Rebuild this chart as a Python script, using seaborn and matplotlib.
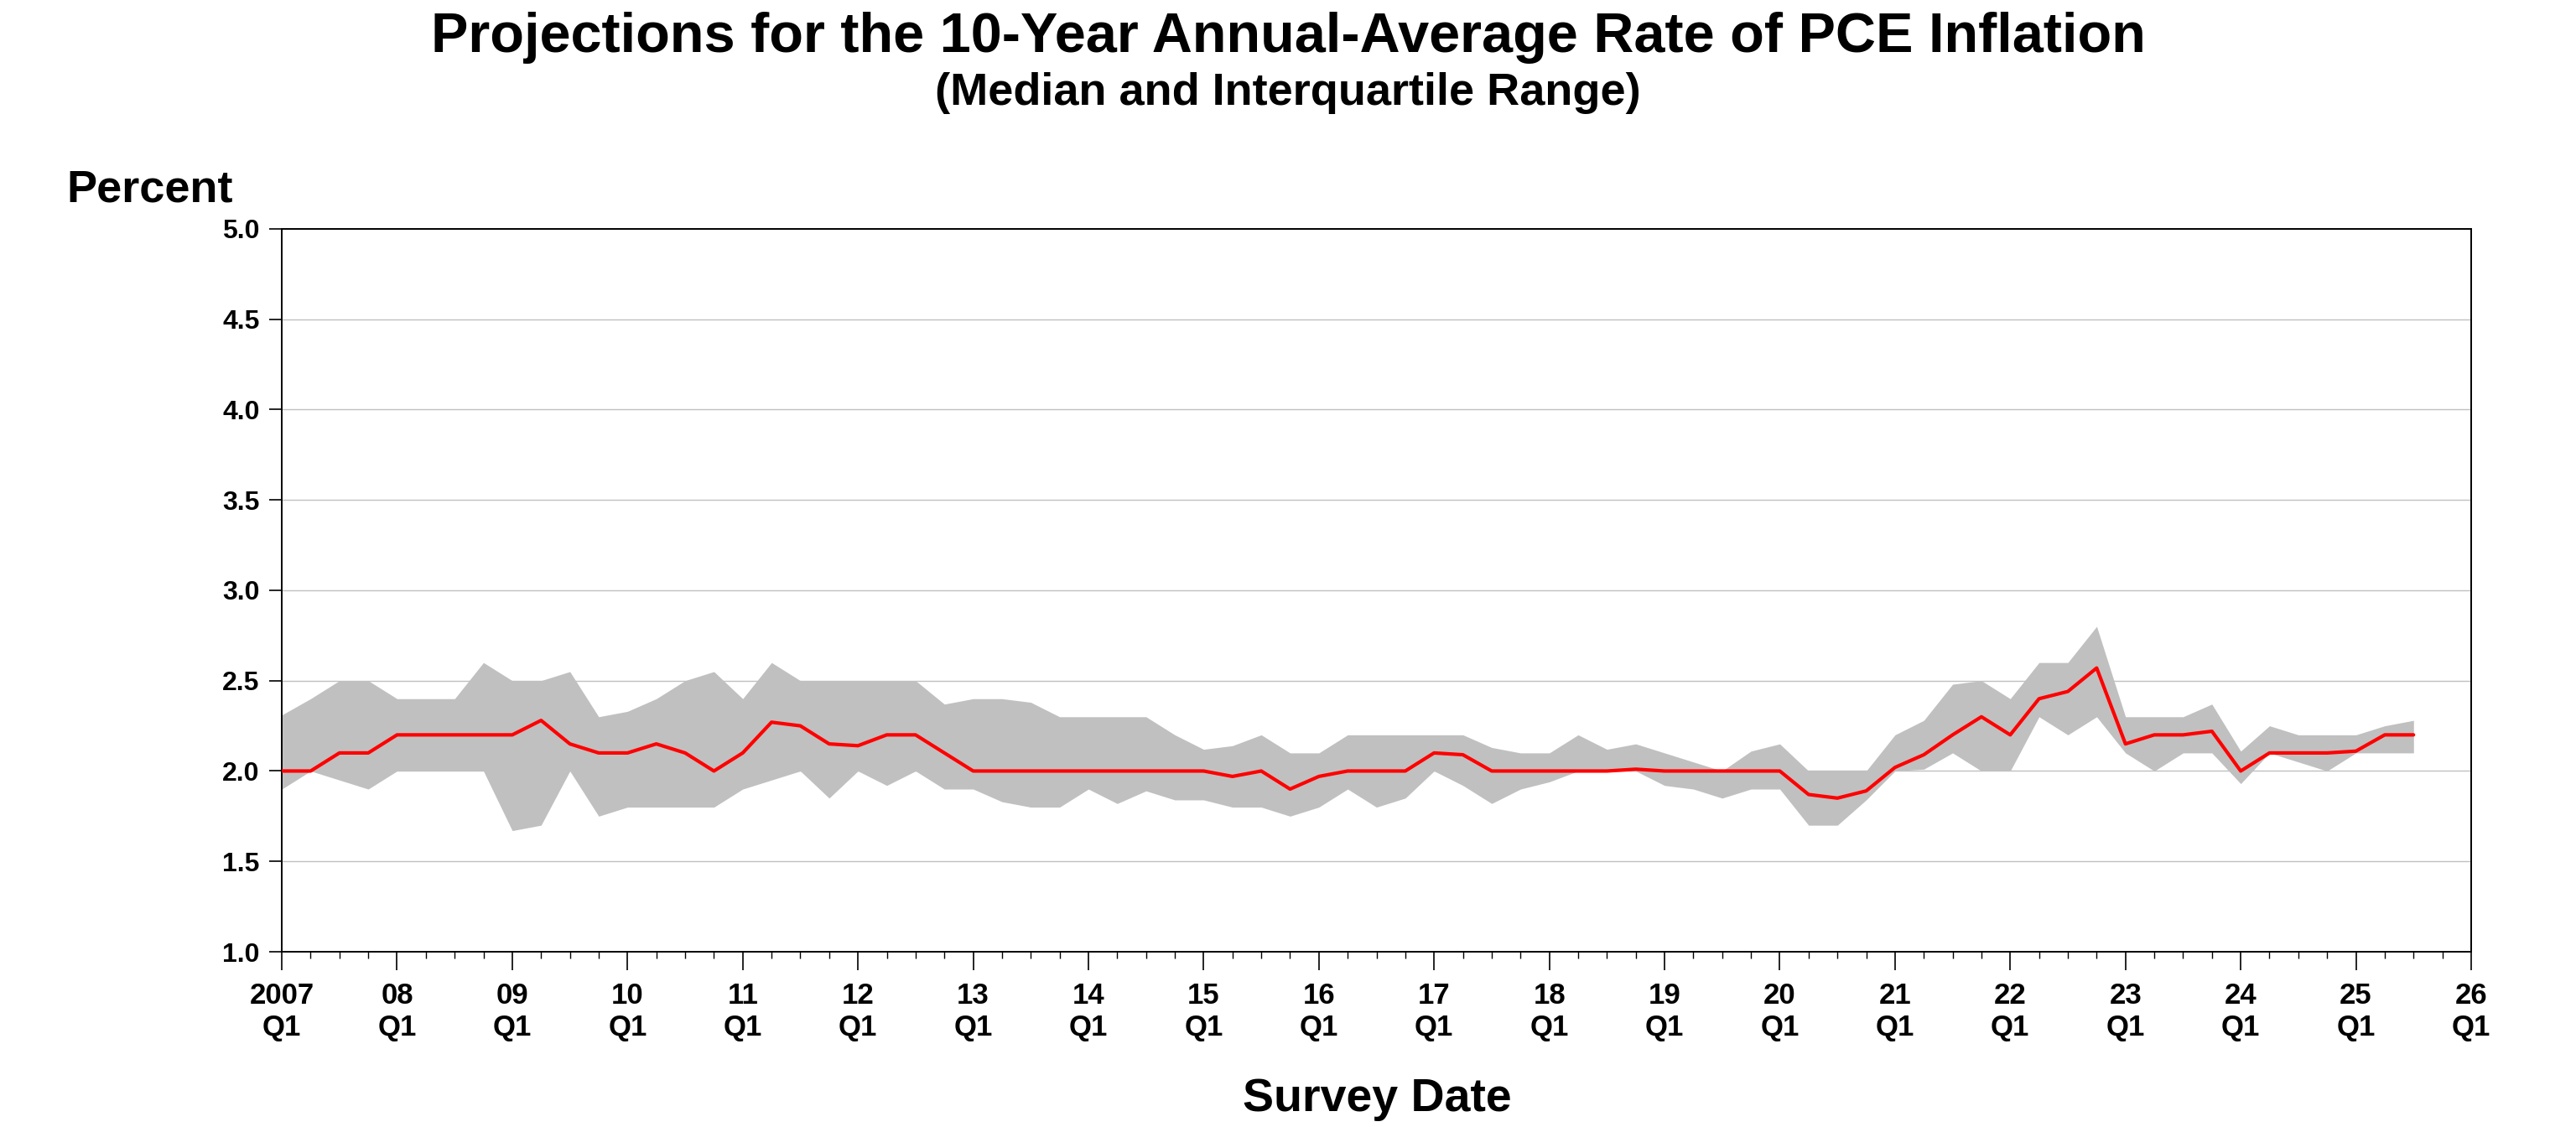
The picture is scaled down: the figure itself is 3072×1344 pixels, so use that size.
import pandas as pd
import matplotlib
matplotlib.use("Agg")
import matplotlib.pyplot as plt
import seaborn as sns
from matplotlib.ticker import MultipleLocator

# survey quarters 2007Q1 .. 2025Q3 (index 0 = 2007Q1)
year_labels = ["2007", "08", "09", "10", "11", "12", "13", "14", "15", "16",
               "17", "18", "19", "20", "21", "22", "23", "24", "25", "26"]

median = [2.00, 2.00, 2.10, 2.10, 2.20, 2.20, 2.20, 2.20, 2.20, 2.28,
          2.15, 2.10, 2.10, 2.15, 2.10, 2.00, 2.10, 2.27, 2.25, 2.15,
          2.14, 2.20, 2.20, 2.10, 2.00, 2.00, 2.00, 2.00, 2.00, 2.00,
          2.00, 2.00, 2.00, 1.97, 2.00, 1.90, 1.97, 2.00, 2.00, 2.00,
          2.10, 2.09, 2.00, 2.00, 2.00, 2.00, 2.00, 2.01, 2.00, 2.00,
          2.00, 2.00, 2.00, 1.87, 1.85, 1.89, 2.02, 2.09, 2.20, 2.30,
          2.20, 2.40, 2.44, 2.57, 2.15, 2.20, 2.20, 2.22, 2.00, 2.10,
          2.10, 2.10, 2.11, 2.20, 2.20]

upper = [2.31, 2.40, 2.50, 2.50, 2.40, 2.40, 2.40, 2.60, 2.50, 2.50,
         2.55, 2.30, 2.33, 2.40, 2.50, 2.55, 2.40, 2.60, 2.50, 2.50,
         2.50, 2.50, 2.50, 2.37, 2.40, 2.40, 2.38, 2.30, 2.30, 2.30,
         2.30, 2.20, 2.12, 2.14, 2.20, 2.10, 2.10, 2.20, 2.20, 2.20,
         2.20, 2.20, 2.13, 2.10, 2.10, 2.20, 2.12, 2.15, 2.10, 2.05,
         2.00, 2.11, 2.15, 2.00, 2.00, 2.00, 2.20, 2.28, 2.48, 2.50,
         2.40, 2.60, 2.60, 2.80, 2.30, 2.30, 2.30, 2.37, 2.11, 2.25,
         2.20, 2.20, 2.20, 2.25, 2.28]

lower = [1.90, 2.00, 1.95, 1.90, 2.00, 2.00, 2.00, 2.00, 1.67, 1.70,
         2.00, 1.75, 1.80, 1.80, 1.80, 1.80, 1.90, 1.95, 2.00, 1.85,
         2.00, 1.92, 2.00, 1.90, 1.90, 1.83, 1.80, 1.80, 1.90, 1.82,
         1.89, 1.84, 1.84, 1.80, 1.80, 1.75, 1.80, 1.90, 1.80, 1.85,
         2.00, 1.92, 1.82, 1.90, 1.94, 2.00, 2.00, 2.00, 1.92, 1.90,
         1.85, 1.90, 1.90, 1.70, 1.70, 1.84, 2.00, 2.01, 2.10, 2.00,
         2.00, 2.30, 2.20, 2.30, 2.10, 2.00, 2.10, 2.10, 1.93, 2.10,
         2.05, 2.00, 2.10, 2.10, 2.10]

df = pd.DataFrame({"quarter": range(len(median)),
                   "median": median, "lower": lower, "upper": upper})

sns.set_theme(style="white")
plt.rcParams["font.family"] = ["Liberation Sans", "DejaVu Sans"]
plt.rcParams["font.weight"] = "bold"
plt.rcParams["text.color"] = "black"
plt.rcParams["axes.labelcolor"] = "black"
plt.rcParams["xtick.color"] = "black"
plt.rcParams["ytick.color"] = "black"

fig, ax = plt.subplots(figsize=(15.36, 6.72), dpi=200)
fig.subplots_adjust(left=0.1094, right=0.9593, bottom=0.1555, top=0.797)

# interquartile band + median line
ax.fill_between(df["quarter"], df["lower"], df["upper"],
                color="#c0c0c0", linewidth=0, zorder=2)
sns.lineplot(data=df, x="quarter", y="median", color="#ff0000",
             linewidth=1.5, ax=ax, zorder=3)

ax.set_xlim(0, 4 * (len(year_labels) - 1))
ax.set_ylim(1.0, 5.0)
ax.yaxis.set_major_locator(MultipleLocator(0.5))
ax.yaxis.set_major_formatter("{x:.1f}")
ax.set_xticks(range(0, 4 * len(year_labels), 4))
ax.set_xticklabels([f"{y}\nQ1" for y in year_labels])
ax.xaxis.set_minor_locator(MultipleLocator(1))

ax.grid(axis="y", color="#c0c0c0", linewidth=0.5, zorder=0)
ax.set_axisbelow(True)
for s in ax.spines.values():
    s.set_visible(True)
    s.set_color("black")
    s.set_linewidth(0.7)

ax.tick_params(axis="x", which="major", bottom=True, direction="out",
               length=8, width=0.6, pad=5, labelsize=12.5, colors="black")
ax.tick_params(axis="x", which="minor", bottom=True, direction="out",
               length=3, width=0.5, colors="black")
ax.tick_params(axis="y", which="major", left=True, direction="out",
               length=5.5, width=0.6, pad=4, labelsize=11.5, colors="black")
for lab in ax.get_xticklabels() + ax.get_yticklabels():
    lab.set_fontweight("bold")

ax.set_xlabel("")
ax.set_ylabel("")

fig.text(0.5, 0.954, "Projections for the 10-Year Annual-Average Rate of PCE Inflation",
         ha="center", va="baseline", fontsize=24, fontweight="bold", color="black")
fig.text(0.5, 0.907, "(Median and Interquartile Range)",
         ha="center", va="baseline", fontsize=19.5, fontweight="bold", color="black")
fig.text(0.026, 0.8207, "Percent", ha="left", va="baseline",
         fontsize=19.5, fontweight="bold", color="black")
fig.text(0.5347, 0.014, "Survey Date", ha="center", va="baseline",
         fontsize=20, fontweight="bold", color="black")

fig.savefig("out.png", dpi=200, facecolor="white")
